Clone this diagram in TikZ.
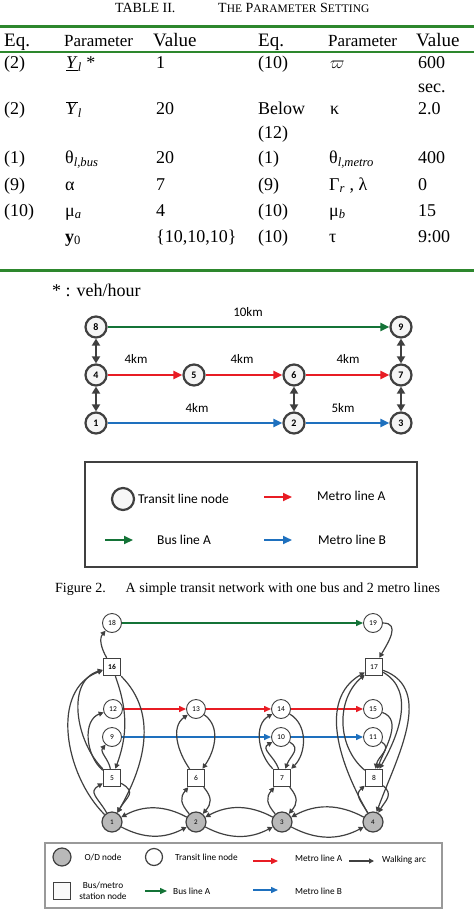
\documentclass[tikz,border=0pt]{standalone}
\usepackage{fontspec}
\setmainfont{Liberation Serif}
\newfontfamily\calib{Carlito}
\usetikzlibrary{arrows.meta}
\definecolor{tgreen}{RGB}{45,135,45}
\definecolor{busg}{RGB}{20,115,55}
\definecolor{metroA}{RGB}{232,28,36}
\definecolor{metroB}{RGB}{30,112,190}
\definecolor{dk}{RGB}{64,64,64}
\definecolor{odfill}{RGB}{185,185,185}
\begin{document}
\begin{tikzpicture}[x=1pt,y=1pt,
  ttl/.style={anchor=base west, inner sep=0pt, font=\fontsize{14}{16}\selectfont},
  tc/.style={anchor=base west, inner sep=0pt, font=\fontsize{18}{20}\selectfont},
  th/.style={anchor=base west, inner sep=0pt, font=\fontsize{19}{21}\selectfont},
  thp/.style={anchor=base west, inner sep=0pt, font=\fontsize{17}{19}\selectfont},
  gnode/.style={circle, draw=dk, line width=2.2pt, fill=gray!8, minimum size=21pt, inner sep=0pt, font=\calib\bfseries\fontsize{10}{10}\selectfont},
  gline/.style={line width=2pt, -{Triangle[length=9pt,width=8pt]}},
  dbl/.style={dk, line width=2.5pt, {Triangle[length=7pt,width=8pt]}-{Triangle[length=7pt,width=8pt]}},
  lbl/.style={font=\calib\fontsize{13}{13}\selectfont, inner sep=0pt},
  leg/.style={font=\calib\fontsize{13.5}{14}\selectfont, inner sep=0pt, anchor=west},
  tnode/.style={circle, draw=dk, line width=0.9pt, fill=white, minimum size=19pt, inner sep=0pt, font=\calib\fontsize{7.5}{8}\selectfont},
  snode/.style={rectangle, draw=dk, line width=1.4pt, fill=white, minimum size=17pt, inner sep=0pt, font=\calib\fontsize{7.5}{8}\selectfont},
  onode/.style={circle, draw=dk, line width=1.2pt, fill=odfill, minimum size=20pt, inner sep=0pt, font=\calib\fontsize{7}{8}\selectfont},
  walk/.style={dk, line width=1.2pt, -{Triangle[length=5pt,width=5pt]}},
  lineB/.style={line width=1.4pt, -{Triangle[length=7pt,width=6pt]}},
  leg2/.style={font=\calib\fontsize{9.3}{11}\selectfont, inner sep=0pt, anchor=west},
]
\useasboundingbox (0,0) rectangle (474,-912);

% ---------- table ----------
\node[ttl] (t1) at (115,-13) {TABLE II.};
\node[ttl] (t2) at (218,-13) {T{\fontsize{11.5}{12}\selectfont HE} P{\fontsize{11.5}{12}\selectfont ARAMETER} S{\fontsize{11.5}{12}\selectfont ETTING}};
\draw[tgreen, line width=3pt] (0,-27) -- (474,-27);
\draw[tgreen, line width=1.5pt] (0,-52) -- (474,-52);
\draw[tgreen, line width=3pt] (0,-270) -- (474,-270);

\node[th] (h1) at (4,-47) {Eq.};
\node[thp] (h2) at (64,-47) {Parameter};
\node[th] (h3) at (153,-47) {Value};
\node[th] (h4) at (258,-47) {Eq.};
\node[thp] (h5) at (328,-47) {Parameter};
\node[th] (h6) at (416,-47) {Value};

\node[tc] (a1) at (4,-69) {(2)};
\node[tc] (a2) at (66,-69) {\underline{\textit{Y}}\textsubscript{\textit{l}} *};
\node[tc] (a3) at (156,-69) {1};
\node[tc] (a4) at (258,-69) {(10)};
\node[tc] (a5) at (330,-69) {$\varpi$};
\node[tc] (a6) at (418,-69) {600};
\node[tc] (a7) at (418,-93) {sec.};

\node[tc] (b1) at (4,-115) {(2)};
\node[tc] (b2) at (66,-115) {$\overline{\mbox{\textit{Y}}}$\textsubscript{\textit{l}}};
\node[tc] (b3) at (156,-115) {20};
\node[tc] (b4) at (258,-115) {Below};
\node[tc] (b5) at (330,-115) {κ};
\node[tc] (b6) at (418,-115) {2.0};
\node[tc] (b7) at (258,-139) {(12)};

\node[tc] (c1) at (4,-164) {(1)};
\node[tc] (c2) at (65,-164) {θ\textsubscript{\textit{l,bus}}};
\node[tc] (c3) at (156,-164) {20};
\node[tc] (c4) at (258,-164) {(1)};
\node[tc] (c5) at (329,-164) {θ\textsubscript{\textit{l,metro}}};
\node[tc] (c6) at (418,-164) {400};

\node[tc] (d1) at (4,-190) {(9)};
\node[tc] (d2) at (65,-190) {α};
\node[tc] (d3) at (156,-190) {7};
\node[tc] (d4) at (258,-190) {(9)};
\node[tc] (d5) at (329,-190) {Γ\textsubscript{\textit{r}} , λ};
\node[tc] (d6) at (418,-190) {0};

\node[tc] (e1) at (4,-216) {(10)};
\node[tc] (e2) at (65,-216) {μ\textsubscript{\textit{a}}};
\node[tc] (e3) at (156,-216) {4};
\node[tc] (e4) at (258,-216) {(10)};
\node[tc] (e5) at (329,-216) {μ\textsubscript{\textit{b}}};
\node[tc] (e6) at (418,-216) {15};

\node[tc] (f2) at (65,-242) {\textbf{y}\textsubscript{0}};
\node[tc] (f3) at (156,-242) {\{10,10,10\}};
\node[tc] (f4) at (258,-242) {(10)};
\node[tc] (f5) at (329,-242) {τ};
\node[tc] (f6) at (418,-242) {9:00};

\node[tc] (note) at (52,-296) {* : veh/hour};

% ---------- figure 2 ----------
\node[gnode] (n8) at (96,-327) {8};
\node[gnode] (n9) at (401,-327) {9};
\node[gnode] (n4) at (96,-375) {4};
\node[gnode] (n5) at (194,-375) {5};
\node[gnode] (n6) at (294,-375) {6};
\node[gnode] (n7) at (401,-375) {7};
\node[gnode] (n1) at (96,-423) {1};
\node[gnode] (n2) at (294,-423) {2};
\node[gnode] (n3) at (401,-423) {3};

\draw[gline, busg] (n8) -- (n9);
\draw[gline, metroA] (n4) -- (n5);
\draw[gline, metroA] (n5) -- (n6);
\draw[gline, metroA] (n6) -- (n7);
\draw[gline, metroB] (n1) -- (n2);
\draw[gline, metroB] (n2) -- (n3);
\draw[dbl] (n8) -- (n4);
\draw[dbl] (n4) -- (n1);
\draw[dbl] (n6) -- (n2);
\draw[dbl] (n9) -- (n7);
\draw[dbl] (n7) -- (n3);

\node[lbl] (k1) at (248,-312) {10km};
\node[lbl] (k2) at (136,-359) {4km};
\node[lbl] (k3) at (242,-359) {4km};
\node[lbl] (k4) at (348,-359) {4km};
\node[lbl] (k5) at (197,-408) {4km};
\node[lbl] (k6) at (343,-408) {5km};

% legend 1
\node[draw=dk, line width=1.2pt, minimum width=332pt, minimum height=105pt, inner sep=0pt] (leg1) at (251,-514.5) {};
\node[gnode, fill=gray!6, minimum size=22pt] (lc1) at (123,-499) {};
\node[leg] (lt1) at (138,-499) {Transit line node};
\coordinate (ra1) at (264,-497); \coordinate (ra2) at (292,-497);
\draw[gline, metroA] (ra1) -- (ra2);
\node[leg] (lt2) at (317,-496) {Metro line A};
\coordinate (ga1) at (105,-540); \coordinate (ga2) at (133,-540);
\draw[gline, busg] (ga1) -- (ga2);
\node[leg] (lt3) at (157,-540) {Bus line A};
\coordinate (ba1) at (264,-540); \coordinate (ba2) at (292,-540);
\draw[gline, metroB] (ba1) -- (ba2);
\node[leg] (lt4) at (318,-540) {Metro line B};

\node[anchor=base west, inner sep=0pt, font=\fontsize{14}{16}\selectfont] (cap) at (55,-592) {Figure 2.\hspace{20pt}A simple transit network with one bus and 2 metro lines};

% ---------- second network ----------
\node[tnode] (m18) at (112,-623) {18};
\node[tnode] (m19) at (373,-623) {19};
\node[snode] (m16) at (112,-667) {\textbf{16}};
\node[snode] (m17) at (374,-667) {17};
\node[tnode] (m12) at (113,-709) {12};
\node[tnode] (m13) at (196,-709) {13};
\node[tnode] (m14) at (281,-709) {14};
\node[tnode] (m15) at (373,-709) {15};
\node[tnode] (m9) at (112,-737) {9};
\node[tnode] (m10) at (281,-737) {10};
\node[tnode] (m11) at (373,-737) {11};
\node[snode] (m5) at (112,-778) {5};
\node[snode] (m6) at (196,-778) {6};
\node[snode] (m7) at (282,-778) {7};
\node[snode] (m8) at (374,-778) {8};
\node[onode] (m1) at (112,-822) {1};
\node[onode] (m2) at (196,-822) {2};
\node[onode] (m3) at (282,-822) {3};
\node[onode] (m4) at (373,-822) {4};

\draw[lineB, busg] (m18) -- (m19);
\draw[lineB, metroA] (m12) -- (m13);
\draw[lineB, metroA] (m13) -- (m14);
\draw[lineB, metroA] (m14) -- (m15);
\draw[lineB, metroB] (m9) -- (m10);
\draw[lineB, metroB] (m10) -- (m11);

% left column
\draw[walk] (m16) to[out=120,in=230] (m18);
\draw[walk] (m1) to[out=135,in=200] (m16);
\draw[walk] (m5) to[out=135,in=197] (m16);
\draw[walk] (m5) to[out=140,in=200] (m12);
\draw[walk] (m5) to[out=100,in=230] (m9);
\draw[walk] (m16) to[out=-70,in=70] (m5);
\draw[walk] (m16) to[out=-45,in=60] (m1);
\draw[walk] (m1) to[out=120,in=210,looseness=1.5] (m5);
\draw[walk] (m5) to[out=-30,in=60,looseness=1.6] (m1);
% column 2
\draw[walk] (m6) to[out=125,in=215] (m13);
\draw[walk] (m13) to[out=-35,in=55] (m6);
\draw[walk] (m2) to[out=130,in=230,looseness=1.3] (m6);
\draw[walk] (m6) to[out=-50,in=50,looseness=1.3] (m2);
% column 3
\draw[walk] (m7) to[out=135,in=210] (m14);
\draw[walk] (m14) to[out=-30,in=45] (m7);
\draw[walk] (m7) to[out=110,in=210,looseness=1.3] (m10);
\draw[walk] (m10) to[out=-30,in=70,looseness=1.3] (m7);
\draw[walk] (m3) to[out=130,in=230,looseness=1.3] (m7);
\draw[walk] (m7) to[out=-50,in=50,looseness=1.3] (m3);
% right column
\draw[walk] (m19) to[out=0,in=60,looseness=1.3] (m17);
\draw[walk] (m17) to[out=-30,in=60] (m8);
\draw[walk] (m15) to[out=-20,in=70] (m8);
\draw[walk] (m11) to[out=-30,in=80,looseness=1.2] (m8);
\draw[walk] (m17) to[out=-20,in=70] (m4);
\draw[walk] (m8) to[out=140,in=220] (m17);
\draw[walk] (m4) to[out=120,in=210] (m17);
\draw[walk] (m4) to[out=120,in=220,looseness=1.3] (m8);
\draw[walk] (m8) to[out=-40,in=60,looseness=1.3] (m4);
% bottom row
\draw[walk] (m2) to[bend right=28] (m1);
\draw[walk] (m1) to[bend right=28] (m2);
\draw[walk] (m3) to[bend right=28] (m2);
\draw[walk] (m2) to[bend right=28] (m3);
\draw[walk] (m4) to[bend right=28] (m3);
\draw[walk] (m3) to[bend right=28] (m4);

% legend 2
\node[draw=gray!80, line width=1.2pt, minimum width=397pt, minimum height=65pt, inner sep=0pt] (leg2box) at (243.5,-875.5) {};
\node[onode, minimum size=18pt] (lo) at (62,-857) {};
\node[font=\calib\fontsize{9.3}{11}\selectfont, inner sep=0pt] (lot) at (103,-857) {O/D node};
\node[tnode, minimum size=17pt, line width=1.2pt] (ltn) at (154,-857) {};
\node[leg2] (ltt) at (175,-857) {Transit line node};
\coordinate (r2a) at (253,-861); \coordinate (r2b) at (278,-861);
\draw[lineB, metroA] (r2a) -- (r2b);
\node[leg2] (lma) at (295,-858) {Metro line A};
\coordinate (w2a) at (349,-861); \coordinate (w2b) at (374,-861);
\draw[walk] (w2a) -- (w2b);
\node[leg2] (lwa) at (382,-860) {Walking arc};
\node[snode, minimum size=17pt, fill=gray!5] (lsq) at (62,-891) {};
\node[align=center, font=\calib\fontsize{9.3}{11.5}\selectfont, inner sep=0pt] (lst) at (103,-891) {Bus/metro\\station node};
\coordinate (g2a) at (145,-891); \coordinate (g2b) at (167,-891);
\draw[lineB, busg] (g2a) -- (g2b);
\node[leg2] (lba) at (173,-891) {Bus line A};
\coordinate (b2a) at (253,-890); \coordinate (b2b) at (278,-890);
\draw[lineB, metroB] (b2a) -- (b2b);
\node[leg2] (lmb) at (295,-891) {Metro line B};
\end{tikzpicture}
\end{document}
